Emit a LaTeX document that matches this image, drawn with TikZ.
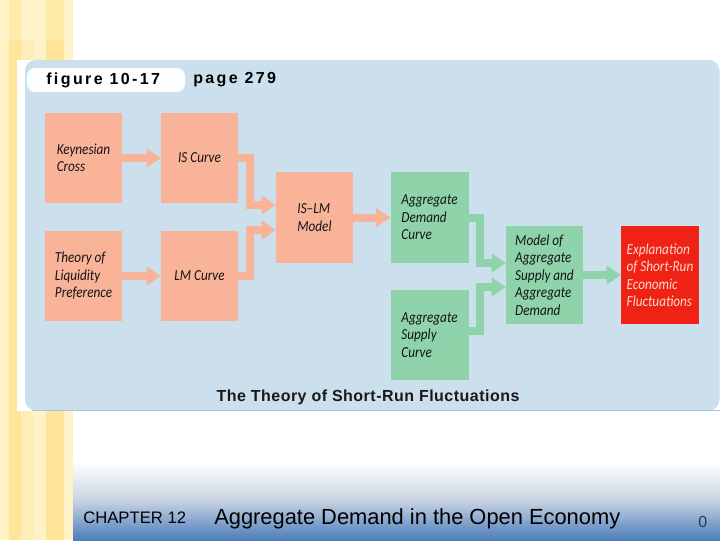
\documentclass[tikz,border=0pt]{standalone}
\usepackage{fontspec}
\setmainfont{Liberation Sans}
\newfontfamily\boxfont[FakeStretch=0.86]{Carlito}
\newfontfamily\tabfont[LetterSpace=15]{Liberation Sans}
\newfontfamily\titlefont[LetterSpace=3]{Liberation Sans}
\usetikzlibrary{arrows.meta,calc}
\definecolor{panel}{HTML}{CCDFEC}
\definecolor{panelline}{HTML}{A9C4DC}
\definecolor{salmon}{HTML}{F9B398}
\definecolor{mint}{HTML}{8FD3AA}
\definecolor{redbox}{HTML}{EE2316}
\definecolor{expltext}{HTML}{FFD8CC}
\definecolor{ylight}{HTML}{FFF2C6}
\definecolor{ydark}{HTML}{FFE59A}
\definecolor{gmid}{HTML}{C8D3E2}
\definecolor{barblue}{HTML}{4A7CBB}
\definecolor{numcol}{HTML}{2B3A55}
\tikzset{
  bx/.style={rectangle, inner sep=0pt, align=left, text=black!92,
    font=\boxfont\itshape\fontsize{11.5}{13.1}\selectfont},
  sbox/.style={bx, fill=salmon, minimum width=57.75pt, minimum height=67.5pt},
  gbox/.style={bx, fill=mint, minimum width=58.5pt, minimum height=68.25pt},
  sarrow/.style={draw=salmon, line width=6pt, line join=miter,
    -{Triangle[length=10.5pt,width=14.25pt,line width=0pt]}},
  garrow/.style={draw=mint, line width=6pt, line join=miter,
    -{Triangle[length=10.5pt,width=14.25pt,line width=0pt]}},
  lbl/.style={inner sep=0pt}
}
\begin{document}
\begin{tikzpicture}[x=0.75pt,y=-0.75pt]
\useasboundingbox (0,0) rectangle (720,540);
\fill[white] (0,0) rectangle (720,540);
% left stripes
\fill[ylight] (0,0) rectangle (73,540);
\fill[ydark!60!ylight] (9,0) rectangle (21,40);
\fill[ydark] (9,40) rectangle (21,540);
\fill[ydark!70!ylight] (46,0) rectangle (64,40);
\fill[ydark] (46,40) rectangle (64,540);
\fill[ydark!35!ylight] (21,40) rectangle (33,540);
% bottom gradient bar
\shade[top color=white, bottom color=gmid] (73,462) rectangle (720,500);
\shade[top color=gmid, bottom color=barblue] (73,500) rectangle (720,540.5);
% panel
\fill[white] (17,60) rectangle (40,411);
\fill[panel, rounded corners=8pt] (25,60) rectangle (719.5,410.5);
\draw[panelline, line width=0.8pt] (32,410.5) -- (720,410.5);
\fill[white!97!panel, rounded corners=6pt] (27,68) rectangle (185,92);
\node[lbl, anchor=west, font=\tabfont\bfseries\fontsize{12}{14}\selectfont] (fig) at (46,80) {figure 10-17};
\node[lbl, anchor=west, font=\tabfont\bfseries\fontsize{12}{14}\selectfont] (pg) at (193,80) {page 279};
% boxes
\node[sbox] (kc) at (83.5,158) {Keynesian\\Cross};
\node[sbox] (is) at (199.5,158) {IS Curve};
\node[sbox] (tlp) at (83.5,276) {Theory of\\Liquidity\\Preference};
\node[sbox] (lm) at (199.5,276) {LM Curve};
\node[sbox, minimum height=68.25pt] (islm) at (314.5,217.5) {IS–LM\\Model};
\node[gbox] (ad) at (429.5,217.5) {Aggregate\\Demand\\Curve};
\node[gbox, minimum height=67.5pt] (as) at (429.5,335) {Aggregate\\Supply\\Curve};
\node[gbox, minimum width=57.75pt, minimum height=73.5pt] (mas) at (544.5,275) {Model of\\Aggregate\\Supply and\\Aggregate\\Demand};
\node[bx, fill=redbox, text=expltext, minimum width=58.5pt, minimum height=73.5pt] (ex) at (660,275) {Explanation\\of Short-Run\\Economic\\Fluctuations};
% connectors
\draw[sarrow] (kc.east) -- (is.west);
\draw[sarrow] (tlp.east) -- (lm.west);
\draw[sarrow] (is.east) -| ($(islm.west)+(-26,-12.5)$) -- ($(islm.west)+(0,-12.5)$);
\draw[sarrow] (lm.east) -| ($(islm.west)+(-26,12.5)$) -- ($(islm.west)+(0,12.5)$);
\draw[sarrow] (islm.east) -- (ad.west);
\draw[garrow] (ad.east) -| ($(mas.west)+(-26,-12)$) -- ($(mas.west)+(0,-12)$);
\draw[garrow] ($(as.east)+(0,-4)$) -| ($(mas.west)+(-26,12)$) -- ($(mas.west)+(0,12)$);
\draw[garrow] (mas.east) -- (ex.west);
% title
\node[lbl, font=\titlefont\bfseries\fontsize{12}{14}\selectfont, text=black!90] (title) at (368,397) {The Theory of Short-Run Fluctuations};
% footer
\node[lbl, anchor=base west, font=\fontsize{12.5}{14}\selectfont] (chap) at (83,523) {CHAPTER 12};
\node[lbl, anchor=base west, font=\fontsize{16.4}{19}\selectfont] (foot) at (214,524) {Aggregate Demand in the Open Economy};
\node[lbl, anchor=base west, text=numcol, font=\fontsize{12}{14}\selectfont] (num) at (698,527) {0};
\end{tikzpicture}
\end{document}
